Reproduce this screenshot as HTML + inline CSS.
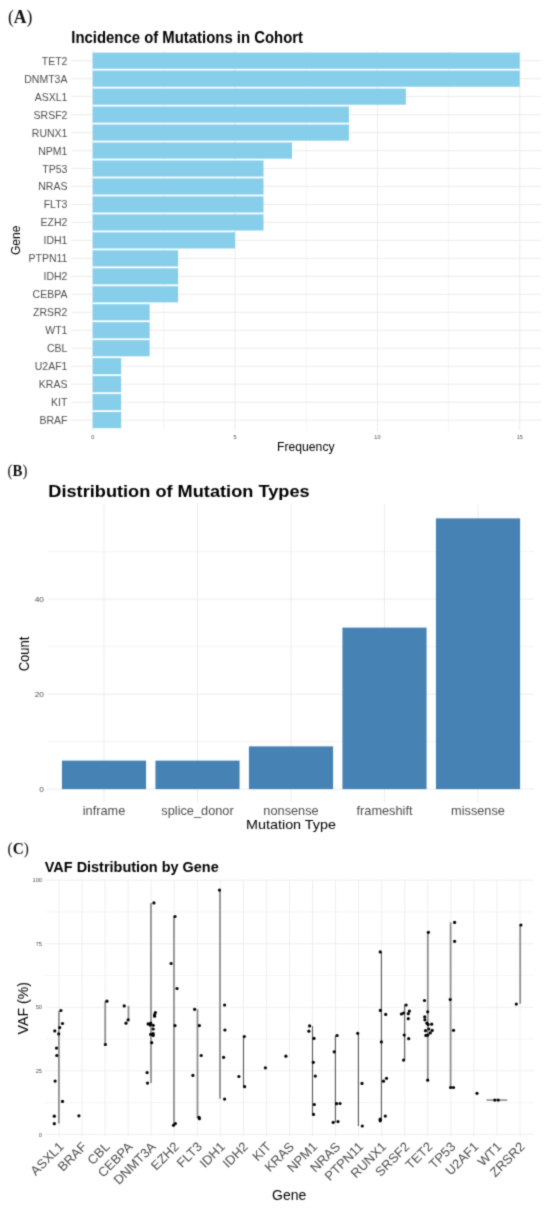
<!DOCTYPE html>
<html><head><meta charset="utf-8"><title>Mutation figure</title>
<style>
html,body{margin:0;padding:0;background:#fff;width:550px;height:1208px;overflow:hidden}
svg{display:block}
text{font-family:"Liberation Sans",Arial,Helvetica,sans-serif}
.lab{font-family:"Liberation Serif","Times New Roman",serif;font-weight:bold;fill:#111}
.ttl{font-weight:bold;fill:#000}
.ax{fill:#4d4d4d}
.tk{fill:#4d4d4d}
.axt{fill:#000}
</style></head>
<body>
<svg width="550" height="1208" viewBox="0 0 550 1208">
<defs><filter id="soft" x="0" y="0" width="100%" height="100%" filterUnits="userSpaceOnUse" color-interpolation-filters="sRGB"><feConvolveMatrix order="3" kernelMatrix="0.0277 0.111 0.0277 0.111 0.446 0.111 0.0277 0.111 0.0277" divisor="1" edgeMode="duplicate"/></filter></defs>
<g filter="url(#soft)">
<rect width="550" height="1208" fill="#fff"/>
<text transform="translate(8 22.9) scale(0.945 1.000)" class="lab" font-size="18.6"><tspan font-weight="normal">(</tspan>A<tspan font-weight="normal">)</tspan></text>
<text transform="translate(71.3 42.8) scale(0.955 1.000)" class="ttl" font-size="15.6">Incidence of Mutations in Cohort</text>
<line x1="92.7" y1="49.92" x2="92.7" y2="430.88" stroke="#ebebeb" stroke-width="1"/>
<line x1="163.88" y1="49.92" x2="163.88" y2="430.88" stroke="#ebebeb" stroke-width="0.6"/>
<line x1="235.05" y1="49.92" x2="235.05" y2="430.88" stroke="#ebebeb" stroke-width="1"/>
<line x1="306.22" y1="49.92" x2="306.22" y2="430.88" stroke="#ebebeb" stroke-width="0.6"/>
<line x1="377.4" y1="49.92" x2="377.4" y2="430.88" stroke="#ebebeb" stroke-width="1"/>
<line x1="448.57" y1="49.92" x2="448.57" y2="430.88" stroke="#ebebeb" stroke-width="0.6"/>
<line x1="519.75" y1="49.92" x2="519.75" y2="430.88" stroke="#ebebeb" stroke-width="1"/>
<line x1="71.35" y1="60.7" x2="541.1" y2="60.7" stroke="#ebebeb" stroke-width="1"/>
<line x1="71.35" y1="78.67" x2="541.1" y2="78.67" stroke="#ebebeb" stroke-width="1"/>
<line x1="71.35" y1="96.64" x2="541.1" y2="96.64" stroke="#ebebeb" stroke-width="1"/>
<line x1="71.35" y1="114.61" x2="541.1" y2="114.61" stroke="#ebebeb" stroke-width="1"/>
<line x1="71.35" y1="132.58" x2="541.1" y2="132.58" stroke="#ebebeb" stroke-width="1"/>
<line x1="71.35" y1="150.55" x2="541.1" y2="150.55" stroke="#ebebeb" stroke-width="1"/>
<line x1="71.35" y1="168.52" x2="541.1" y2="168.52" stroke="#ebebeb" stroke-width="1"/>
<line x1="71.35" y1="186.49" x2="541.1" y2="186.49" stroke="#ebebeb" stroke-width="1"/>
<line x1="71.35" y1="204.46" x2="541.1" y2="204.46" stroke="#ebebeb" stroke-width="1"/>
<line x1="71.35" y1="222.43" x2="541.1" y2="222.43" stroke="#ebebeb" stroke-width="1"/>
<line x1="71.35" y1="240.4" x2="541.1" y2="240.4" stroke="#ebebeb" stroke-width="1"/>
<line x1="71.35" y1="258.37" x2="541.1" y2="258.37" stroke="#ebebeb" stroke-width="1"/>
<line x1="71.35" y1="276.34" x2="541.1" y2="276.34" stroke="#ebebeb" stroke-width="1"/>
<line x1="71.35" y1="294.31" x2="541.1" y2="294.31" stroke="#ebebeb" stroke-width="1"/>
<line x1="71.35" y1="312.28" x2="541.1" y2="312.28" stroke="#ebebeb" stroke-width="1"/>
<line x1="71.35" y1="330.25" x2="541.1" y2="330.25" stroke="#ebebeb" stroke-width="1"/>
<line x1="71.35" y1="348.22" x2="541.1" y2="348.22" stroke="#ebebeb" stroke-width="1"/>
<line x1="71.35" y1="366.19" x2="541.1" y2="366.19" stroke="#ebebeb" stroke-width="1"/>
<line x1="71.35" y1="384.16" x2="541.1" y2="384.16" stroke="#ebebeb" stroke-width="1"/>
<line x1="71.35" y1="402.13" x2="541.1" y2="402.13" stroke="#ebebeb" stroke-width="1"/>
<line x1="71.35" y1="420.1" x2="541.1" y2="420.1" stroke="#ebebeb" stroke-width="1"/>
<rect x="92.7" y="52.61" width="427.05" height="16.17" fill="#87ceeb"/>
<text transform="translate(67.4 64.7) scale(1.030 1.000)" class="ax" font-size="10.2" text-anchor="end">TET2</text>
<rect x="92.7" y="70.58" width="427.05" height="16.17" fill="#87ceeb"/>
<text transform="translate(67.4 82.67) scale(1.030 1.000)" class="ax" font-size="10.2" text-anchor="end">DNMT3A</text>
<rect x="92.7" y="88.55" width="313.17" height="16.17" fill="#87ceeb"/>
<text transform="translate(67.4 100.64) scale(1.030 1.000)" class="ax" font-size="10.2" text-anchor="end">ASXL1</text>
<rect x="92.7" y="106.52" width="256.23" height="16.17" fill="#87ceeb"/>
<text transform="translate(67.4 118.61) scale(1.030 1.000)" class="ax" font-size="10.2" text-anchor="end">SRSF2</text>
<rect x="92.7" y="124.49" width="256.23" height="16.17" fill="#87ceeb"/>
<text transform="translate(67.4 136.58) scale(1.030 1.000)" class="ax" font-size="10.2" text-anchor="end">RUNX1</text>
<rect x="92.7" y="142.46" width="199.29" height="16.17" fill="#87ceeb"/>
<text transform="translate(67.4 154.55) scale(1.030 1.000)" class="ax" font-size="10.2" text-anchor="end">NPM1</text>
<rect x="92.7" y="160.43" width="170.82" height="16.17" fill="#87ceeb"/>
<text transform="translate(67.4 172.52) scale(1.030 1.000)" class="ax" font-size="10.2" text-anchor="end">TP53</text>
<rect x="92.7" y="178.4" width="170.82" height="16.17" fill="#87ceeb"/>
<text transform="translate(67.4 190.49) scale(1.030 1.000)" class="ax" font-size="10.2" text-anchor="end">NRAS</text>
<rect x="92.7" y="196.37" width="170.82" height="16.17" fill="#87ceeb"/>
<text transform="translate(67.4 208.46) scale(1.030 1.000)" class="ax" font-size="10.2" text-anchor="end">FLT3</text>
<rect x="92.7" y="214.34" width="170.82" height="16.17" fill="#87ceeb"/>
<text transform="translate(67.4 226.43) scale(1.030 1.000)" class="ax" font-size="10.2" text-anchor="end">EZH2</text>
<rect x="92.7" y="232.31" width="142.35" height="16.17" fill="#87ceeb"/>
<text transform="translate(67.4 244.4) scale(1.030 1.000)" class="ax" font-size="10.2" text-anchor="end">IDH1</text>
<rect x="92.7" y="250.28" width="85.41" height="16.17" fill="#87ceeb"/>
<text transform="translate(67.4 262.37) scale(1.030 1.000)" class="ax" font-size="10.2" text-anchor="end">PTPN11</text>
<rect x="92.7" y="268.25" width="85.41" height="16.17" fill="#87ceeb"/>
<text transform="translate(67.4 280.34) scale(1.030 1.000)" class="ax" font-size="10.2" text-anchor="end">IDH2</text>
<rect x="92.7" y="286.22" width="85.41" height="16.17" fill="#87ceeb"/>
<text transform="translate(67.4 298.31) scale(1.030 1.000)" class="ax" font-size="10.2" text-anchor="end">CEBPA</text>
<rect x="92.7" y="304.19" width="56.94" height="16.17" fill="#87ceeb"/>
<text transform="translate(67.4 316.28) scale(1.030 1.000)" class="ax" font-size="10.2" text-anchor="end">ZRSR2</text>
<rect x="92.7" y="322.16" width="56.94" height="16.17" fill="#87ceeb"/>
<text transform="translate(67.4 334.25) scale(1.030 1.000)" class="ax" font-size="10.2" text-anchor="end">WT1</text>
<rect x="92.7" y="340.13" width="56.94" height="16.17" fill="#87ceeb"/>
<text transform="translate(67.4 352.22) scale(1.030 1.000)" class="ax" font-size="10.2" text-anchor="end">CBL</text>
<rect x="92.7" y="358.1" width="28.47" height="16.17" fill="#87ceeb"/>
<text transform="translate(67.4 370.19) scale(1.030 1.000)" class="ax" font-size="10.2" text-anchor="end">U2AF1</text>
<rect x="92.7" y="376.07" width="28.47" height="16.17" fill="#87ceeb"/>
<text transform="translate(67.4 388.16) scale(1.030 1.000)" class="ax" font-size="10.2" text-anchor="end">KRAS</text>
<rect x="92.7" y="394.04" width="28.47" height="16.17" fill="#87ceeb"/>
<text transform="translate(67.4 406.13) scale(1.030 1.000)" class="ax" font-size="10.2" text-anchor="end">KIT</text>
<rect x="92.7" y="412.01" width="28.47" height="16.17" fill="#87ceeb"/>
<text transform="translate(67.4 424.1) scale(1.030 1.000)" class="ax" font-size="10.2" text-anchor="end">BRAF</text>
<text transform="translate(92.7 439.3) scale(0.920 1.000)" class="tk" font-size="6" text-anchor="middle">0</text>
<text transform="translate(235.05 439.3) scale(0.920 1.000)" class="tk" font-size="6" text-anchor="middle">5</text>
<text transform="translate(377.4 439.3) scale(0.920 1.000)" class="tk" font-size="6" text-anchor="middle">10</text>
<text transform="translate(519.75 439.3) scale(0.920 1.000)" class="tk" font-size="6" text-anchor="middle">15</text>
<text transform="translate(305.8 451.4)" class="axt" font-size="12.2" text-anchor="middle">Frequency</text>
<text transform="translate(19.7 240.3) rotate(-90) scale(1.000 1.050)" class="axt" font-size="12" text-anchor="middle">Gene</text>
<text transform="translate(7.6 476) scale(0.910 1.000)" class="lab" font-size="16.3"><tspan font-weight="normal">(</tspan>B<tspan font-weight="normal">)</tspan></text>
<text transform="translate(48.3 497.1) scale(1.137 1.000)" class="ttl" font-size="16">Distribution of Mutation Types</text>
<line x1="47.9" y1="789.1" x2="534.1" y2="789.1" stroke="#ebebeb" stroke-width="1"/>
<line x1="47.9" y1="741.6" x2="534.1" y2="741.6" stroke="#ebebeb" stroke-width="0.6"/>
<line x1="47.9" y1="694.1" x2="534.1" y2="694.1" stroke="#ebebeb" stroke-width="1"/>
<line x1="47.9" y1="646.6" x2="534.1" y2="646.6" stroke="#ebebeb" stroke-width="0.6"/>
<line x1="47.9" y1="599.1" x2="534.1" y2="599.1" stroke="#ebebeb" stroke-width="1"/>
<line x1="47.9" y1="551.6" x2="534.1" y2="551.6" stroke="#ebebeb" stroke-width="0.6"/>
<line x1="104" y1="503.6" x2="104" y2="802.64" stroke="#ebebeb" stroke-width="1"/>
<line x1="197.5" y1="503.6" x2="197.5" y2="802.64" stroke="#ebebeb" stroke-width="1"/>
<line x1="291" y1="503.6" x2="291" y2="802.64" stroke="#ebebeb" stroke-width="1"/>
<line x1="384.5" y1="503.6" x2="384.5" y2="802.64" stroke="#ebebeb" stroke-width="1"/>
<line x1="478" y1="503.6" x2="478" y2="802.64" stroke="#ebebeb" stroke-width="1"/>
<rect x="61.92" y="760.6" width="84.15" height="28.5" fill="#4682b4"/>
<text transform="translate(104 815.2) scale(1.065 1.000)" class="ax" font-size="12" text-anchor="middle">inframe</text>
<rect x="155.43" y="760.6" width="84.15" height="28.5" fill="#4682b4"/>
<text transform="translate(197.5 815.2) scale(1.065 1.000)" class="ax" font-size="12" text-anchor="middle">splice_donor</text>
<rect x="248.93" y="746.35" width="84.15" height="42.75" fill="#4682b4"/>
<text transform="translate(291 815.2) scale(1.065 1.000)" class="ax" font-size="12" text-anchor="middle">nonsense</text>
<rect x="342.43" y="627.6" width="84.15" height="161.5" fill="#4682b4"/>
<text transform="translate(384.5 815.2) scale(1.065 1.000)" class="ax" font-size="12" text-anchor="middle">frameshift</text>
<rect x="435.93" y="518.35" width="84.15" height="270.75" fill="#4682b4"/>
<text transform="translate(478 815.2) scale(1.065 1.000)" class="ax" font-size="12" text-anchor="middle">missense</text>
<text transform="translate(44 791.7) scale(1.050 1.000)" class="tk" font-size="8" text-anchor="end">0</text>
<text transform="translate(44 696.7) scale(1.050 1.000)" class="tk" font-size="8" text-anchor="end">20</text>
<text transform="translate(44 601.7) scale(1.050 1.000)" class="tk" font-size="8" text-anchor="end">40</text>
<text transform="translate(291 829) scale(1.105 1.000)" class="axt" font-size="13" text-anchor="middle">Mutation Type</text>
<text transform="translate(29.2 654) rotate(-90) scale(1.000 1.150)" class="axt" font-size="13" text-anchor="middle">Count</text>
<text transform="translate(7.6 854.3) scale(0.930 1.000)" class="lab" font-size="16.5"><tspan font-weight="normal">(</tspan>C<tspan font-weight="normal">)</tspan></text>
<text transform="translate(44.8 872.3) scale(1.040 1.000)" class="ttl" font-size="13.9">VAF Distribution by Gene</text>
<line x1="45.17" y1="1134.3" x2="533.83" y2="1134.3" stroke="#eeeeee" stroke-width="1"/>
<line x1="45.17" y1="1102.54" x2="533.83" y2="1102.54" stroke="#eeeeee" stroke-width="0.6"/>
<line x1="45.17" y1="1070.77" x2="533.83" y2="1070.77" stroke="#eeeeee" stroke-width="1"/>
<line x1="45.17" y1="1039.01" x2="533.83" y2="1039.01" stroke="#eeeeee" stroke-width="0.6"/>
<line x1="45.17" y1="1007.25" x2="533.83" y2="1007.25" stroke="#eeeeee" stroke-width="1"/>
<line x1="45.17" y1="975.49" x2="533.83" y2="975.49" stroke="#eeeeee" stroke-width="0.6"/>
<line x1="45.17" y1="943.72" x2="533.83" y2="943.72" stroke="#eeeeee" stroke-width="1"/>
<line x1="45.17" y1="911.96" x2="533.83" y2="911.96" stroke="#eeeeee" stroke-width="0.6"/>
<line x1="45.17" y1="880.2" x2="533.83" y2="880.2" stroke="#eeeeee" stroke-width="1"/>
<line x1="59" y1="879.5" x2="59" y2="1136.5" stroke="#eeeeee" stroke-width="1"/>
<line x1="82.05" y1="879.5" x2="82.05" y2="1136.5" stroke="#eeeeee" stroke-width="1"/>
<line x1="105.1" y1="879.5" x2="105.1" y2="1136.5" stroke="#eeeeee" stroke-width="1"/>
<line x1="128.15" y1="879.5" x2="128.15" y2="1136.5" stroke="#eeeeee" stroke-width="1"/>
<line x1="151.2" y1="879.5" x2="151.2" y2="1136.5" stroke="#eeeeee" stroke-width="1"/>
<line x1="174.25" y1="879.5" x2="174.25" y2="1136.5" stroke="#eeeeee" stroke-width="1"/>
<line x1="197.3" y1="879.5" x2="197.3" y2="1136.5" stroke="#eeeeee" stroke-width="1"/>
<line x1="220.35" y1="879.5" x2="220.35" y2="1136.5" stroke="#eeeeee" stroke-width="1"/>
<line x1="243.4" y1="879.5" x2="243.4" y2="1136.5" stroke="#eeeeee" stroke-width="1"/>
<line x1="266.45" y1="879.5" x2="266.45" y2="1136.5" stroke="#eeeeee" stroke-width="1"/>
<line x1="289.5" y1="879.5" x2="289.5" y2="1136.5" stroke="#eeeeee" stroke-width="1"/>
<line x1="312.55" y1="879.5" x2="312.55" y2="1136.5" stroke="#eeeeee" stroke-width="1"/>
<line x1="335.6" y1="879.5" x2="335.6" y2="1136.5" stroke="#eeeeee" stroke-width="1"/>
<line x1="358.65" y1="879.5" x2="358.65" y2="1136.5" stroke="#eeeeee" stroke-width="1"/>
<line x1="381.7" y1="879.5" x2="381.7" y2="1136.5" stroke="#eeeeee" stroke-width="1"/>
<line x1="404.75" y1="879.5" x2="404.75" y2="1136.5" stroke="#eeeeee" stroke-width="1"/>
<line x1="427.8" y1="879.5" x2="427.8" y2="1136.5" stroke="#eeeeee" stroke-width="1"/>
<line x1="450.85" y1="879.5" x2="450.85" y2="1136.5" stroke="#eeeeee" stroke-width="1"/>
<line x1="473.9" y1="879.5" x2="473.9" y2="1136.5" stroke="#eeeeee" stroke-width="1"/>
<line x1="496.95" y1="879.5" x2="496.95" y2="1136.5" stroke="#eeeeee" stroke-width="1"/>
<line x1="520" y1="879.5" x2="520" y2="1136.5" stroke="#eeeeee" stroke-width="1"/>
<text transform="translate(42 1136.5) scale(0.950 1.000)" class="tk" font-size="6" text-anchor="end">0</text>
<text transform="translate(42 1072.97) scale(0.950 1.000)" class="tk" font-size="6" text-anchor="end">25</text>
<text transform="translate(42 1009.45) scale(0.950 1.000)" class="tk" font-size="6" text-anchor="end">50</text>
<text transform="translate(42 945.92) scale(0.950 1.000)" class="tk" font-size="6" text-anchor="end">75</text>
<text transform="translate(42 882.4) scale(0.950 1.000)" class="tk" font-size="6" text-anchor="end">100</text>
<line x1="58.9" y1="1011.3" x2="58.9" y2="1123.4" stroke="#8f8f8f" stroke-width="1.8"/>
<line x1="105.2" y1="1001.5" x2="105.2" y2="1044.5" stroke="#8f8f8f" stroke-width="1.8"/>
<line x1="128.5" y1="1005.9" x2="128.5" y2="1020.3" stroke="#8f8f8f" stroke-width="1.8"/>
<line x1="151" y1="903" x2="151" y2="1083.1" stroke="#8f8f8f" stroke-width="1.8"/>
<line x1="174" y1="916.5" x2="174" y2="1125.3" stroke="#8f8f8f" stroke-width="1.8"/>
<line x1="197.5" y1="1009.3" x2="197.5" y2="1118" stroke="#8f8f8f" stroke-width="1.8"/>
<line x1="220" y1="890.1" x2="220" y2="1098.8" stroke="#8f8f8f" stroke-width="1.8"/>
<line x1="243.5" y1="1036.5" x2="243.5" y2="1086.7" stroke="#555555" stroke-width="1.1"/>
<line x1="312.5" y1="1026.1" x2="312.5" y2="1114.4" stroke="#555555" stroke-width="1.1"/>
<line x1="335.4" y1="1035.5" x2="335.4" y2="1122.4" stroke="#555555" stroke-width="1.1"/>
<line x1="358.4" y1="1033.3" x2="358.4" y2="1126" stroke="#555555" stroke-width="1.1"/>
<line x1="381.4" y1="951.9" x2="381.4" y2="1121" stroke="#555555" stroke-width="1.1"/>
<line x1="404.6" y1="1005" x2="404.6" y2="1060.1" stroke="#6a6a6a" stroke-width="1.3"/>
<line x1="427.8" y1="932.3" x2="427.8" y2="1080.2" stroke="#8f8f8f" stroke-width="1.8"/>
<line x1="450.6" y1="922.4" x2="450.6" y2="1087.5" stroke="#8f8f8f" stroke-width="1.8"/>
<line x1="520.2" y1="925" x2="520.2" y2="1003.8" stroke="#8f8f8f" stroke-width="1.8"/>
<line x1="486.5" y1="1100.1" x2="507.2" y2="1100.1" stroke="#9a9a9a" stroke-width="1.8"/>
<g fill="#000"><circle cx="60.9" cy="1010.5" r="1.6"/><circle cx="62.5" cy="1023.5" r="1.6"/><circle cx="59.7" cy="1027.6" r="1.6"/><circle cx="54.8" cy="1030.9" r="1.6"/><circle cx="58.7" cy="1033.9" r="1.6"/><circle cx="56.5" cy="1048.1" r="1.6"/><circle cx="56.8" cy="1055.5" r="1.6"/><circle cx="55.1" cy="1081.1" r="1.6"/><circle cx="62.5" cy="1101.4" r="1.6"/><circle cx="54.3" cy="1116.2" r="1.6"/><circle cx="54.3" cy="1123.7" r="1.6"/><circle cx="78.9" cy="1115.8" r="1.6"/><circle cx="106.9" cy="1001.2" r="1.6"/><circle cx="105.4" cy="1044.5" r="1.6"/><circle cx="124.2" cy="1005.9" r="1.6"/><circle cx="128.1" cy="1019.9" r="1.6"/><circle cx="126" cy="1023.2" r="1.6"/><circle cx="153.9" cy="902.9" r="1.6"/><circle cx="155.4" cy="1012.5" r="1.6"/><circle cx="154.6" cy="1014.7" r="1.6"/><circle cx="154.6" cy="1016.2" r="1.6"/><circle cx="148.1" cy="1023.9" r="1.6"/><circle cx="150.7" cy="1023.2" r="1.6"/><circle cx="150.1" cy="1024.9" r="1.6"/><circle cx="153.2" cy="1025.3" r="1.6"/><circle cx="153.2" cy="1029" r="1.6"/><circle cx="150.7" cy="1034.4" r="1.6"/><circle cx="153.2" cy="1033.6" r="1.6"/><circle cx="153.2" cy="1035.4" r="1.6"/><circle cx="151.7" cy="1042.7" r="1.6"/><circle cx="147.1" cy="1072.6" r="1.6"/><circle cx="147.5" cy="1083.1" r="1.6"/><circle cx="175" cy="916.5" r="1.6"/><circle cx="171.1" cy="963.5" r="1.6"/><circle cx="177" cy="988.5" r="1.6"/><circle cx="175" cy="1025.6" r="1.6"/><circle cx="173.5" cy="1125.3" r="1.6"/><circle cx="175.4" cy="1123.5" r="1.6"/><circle cx="194.6" cy="1009.3" r="1.6"/><circle cx="199.4" cy="1025.6" r="1.6"/><circle cx="201.2" cy="1055.5" r="1.6"/><circle cx="192.9" cy="1075.4" r="1.6"/><circle cx="199" cy="1117.3" r="1.6"/><circle cx="199.4" cy="1118.7" r="1.6"/><circle cx="219.5" cy="890.1" r="1.6"/><circle cx="224.6" cy="1005" r="1.6"/><circle cx="224.9" cy="1030" r="1.6"/><circle cx="223.6" cy="1057.3" r="1.6"/><circle cx="224.6" cy="1099.1" r="1.6"/><circle cx="244.3" cy="1036.5" r="1.6"/><circle cx="238.9" cy="1076.5" r="1.6"/><circle cx="244.6" cy="1086.7" r="1.6"/><circle cx="265.4" cy="1067.8" r="1.6"/><circle cx="285.9" cy="1056.2" r="1.6"/><circle cx="309.6" cy="1025.9" r="1.6"/><circle cx="308.9" cy="1031.2" r="1.6"/><circle cx="314" cy="1038.4" r="1.6"/><circle cx="313.3" cy="1062.3" r="1.6"/><circle cx="315.3" cy="1076.1" r="1.6"/><circle cx="314.3" cy="1104.5" r="1.6"/><circle cx="313.5" cy="1114.4" r="1.6"/><circle cx="337.1" cy="1035.5" r="1.6"/><circle cx="334.2" cy="1051.8" r="1.6"/><circle cx="336.5" cy="1103.7" r="1.6"/><circle cx="340" cy="1103.5" r="1.6"/><circle cx="333.2" cy="1122.4" r="1.6"/><circle cx="338" cy="1121.6" r="1.6"/><circle cx="357.7" cy="1033.3" r="1.6"/><circle cx="362" cy="1083.4" r="1.6"/><circle cx="362.3" cy="1126" r="1.6"/><circle cx="380.2" cy="951.9" r="1.6"/><circle cx="380.3" cy="1010.4" r="1.6"/><circle cx="385.7" cy="1014.4" r="1.6"/><circle cx="381.4" cy="1041.9" r="1.6"/><circle cx="386.5" cy="1078.3" r="1.6"/><circle cx="383.5" cy="1081.2" r="1.6"/><circle cx="385.3" cy="1116.1" r="1.6"/><circle cx="380.2" cy="1119.2" r="1.6"/><circle cx="380.2" cy="1120.8" r="1.6"/><circle cx="406.1" cy="1005" r="1.6"/><circle cx="401.4" cy="1014" r="1.6"/><circle cx="403.6" cy="1013" r="1.6"/><circle cx="409.4" cy="1011.1" r="1.6"/><circle cx="408.3" cy="1013.7" r="1.6"/><circle cx="408.3" cy="1018.7" r="1.6"/><circle cx="404.2" cy="1035.1" r="1.6"/><circle cx="408.7" cy="1038.7" r="1.6"/><circle cx="403.6" cy="1060.1" r="1.6"/><circle cx="428.4" cy="932.3" r="1.6"/><circle cx="424.5" cy="1000.5" r="1.6"/><circle cx="427.7" cy="1011.8" r="1.6"/><circle cx="424.7" cy="1016.9" r="1.6"/><circle cx="424.9" cy="1019.8" r="1.6"/><circle cx="426.9" cy="1023.2" r="1.6"/><circle cx="428.1" cy="1024.6" r="1.6"/><circle cx="431.7" cy="1024.2" r="1.6"/><circle cx="428.8" cy="1029" r="1.6"/><circle cx="425.5" cy="1030.7" r="1.6"/><circle cx="432.2" cy="1030.4" r="1.6"/><circle cx="430.3" cy="1032.9" r="1.6"/><circle cx="425.9" cy="1035.4" r="1.6"/><circle cx="427.8" cy="1035.1" r="1.6"/><circle cx="427.7" cy="1080.2" r="1.6"/><circle cx="454.6" cy="922.4" r="1.6"/><circle cx="454.6" cy="941.3" r="1.6"/><circle cx="450.2" cy="999.5" r="1.6"/><circle cx="453.5" cy="1030.3" r="1.6"/><circle cx="450.6" cy="1087.5" r="1.6"/><circle cx="453.5" cy="1087.5" r="1.6"/><circle cx="477" cy="1093.3" r="1.6"/><circle cx="494.8" cy="1100.1" r="1.6"/><circle cx="498.2" cy="1100.1" r="1.6"/><circle cx="520.9" cy="925" r="1.6"/><circle cx="516.3" cy="1004.1" r="1.6"/></g>
<text transform="translate(64.5 1147.5) rotate(-45)" class="ax" font-size="13" text-anchor="end">ASXL1</text>
<text transform="translate(87.55 1147.5) rotate(-45)" class="ax" font-size="13" text-anchor="end">BRAF</text>
<text transform="translate(110.6 1147.5) rotate(-45)" class="ax" font-size="13" text-anchor="end">CBL</text>
<text transform="translate(133.65 1147.5) rotate(-45)" class="ax" font-size="13" text-anchor="end">CEBPA</text>
<text transform="translate(156.7 1147.5) rotate(-45)" class="ax" font-size="13" text-anchor="end">DNMT3A</text>
<text transform="translate(179.75 1147.5) rotate(-45)" class="ax" font-size="13" text-anchor="end">EZH2</text>
<text transform="translate(202.8 1147.5) rotate(-45)" class="ax" font-size="13" text-anchor="end">FLT3</text>
<text transform="translate(225.85 1147.5) rotate(-45)" class="ax" font-size="13" text-anchor="end">IDH1</text>
<text transform="translate(248.9 1147.5) rotate(-45)" class="ax" font-size="13" text-anchor="end">IDH2</text>
<text transform="translate(271.95 1147.5) rotate(-45)" class="ax" font-size="13" text-anchor="end">KIT</text>
<text transform="translate(295 1147.5) rotate(-45)" class="ax" font-size="13" text-anchor="end">KRAS</text>
<text transform="translate(318.05 1147.5) rotate(-45)" class="ax" font-size="13" text-anchor="end">NPM1</text>
<text transform="translate(341.1 1147.5) rotate(-45)" class="ax" font-size="13" text-anchor="end">NRAS</text>
<text transform="translate(364.15 1147.5) rotate(-45)" class="ax" font-size="13" text-anchor="end">PTPN11</text>
<text transform="translate(387.2 1147.5) rotate(-45)" class="ax" font-size="13" text-anchor="end">RUNX1</text>
<text transform="translate(410.25 1147.5) rotate(-45)" class="ax" font-size="13" text-anchor="end">SRSF2</text>
<text transform="translate(433.3 1147.5) rotate(-45)" class="ax" font-size="13" text-anchor="end">TET2</text>
<text transform="translate(456.35 1147.5) rotate(-45)" class="ax" font-size="13" text-anchor="end">TP53</text>
<text transform="translate(479.4 1147.5) rotate(-45)" class="ax" font-size="13" text-anchor="end">U2AF1</text>
<text transform="translate(502.45 1147.5) rotate(-45)" class="ax" font-size="13" text-anchor="end">WT1</text>
<text transform="translate(525.5 1147.5) rotate(-45)" class="ax" font-size="13" text-anchor="end">ZRSR2</text>
<text x="289.2" y="1199.6" class="axt" font-size="14" text-anchor="middle">Gene</text>
<text transform="translate(28.4 1008.2) rotate(-90)" class="axt" font-size="14.2" text-anchor="middle">VAF (%)</text>
</g>
</svg>
</body></html>
